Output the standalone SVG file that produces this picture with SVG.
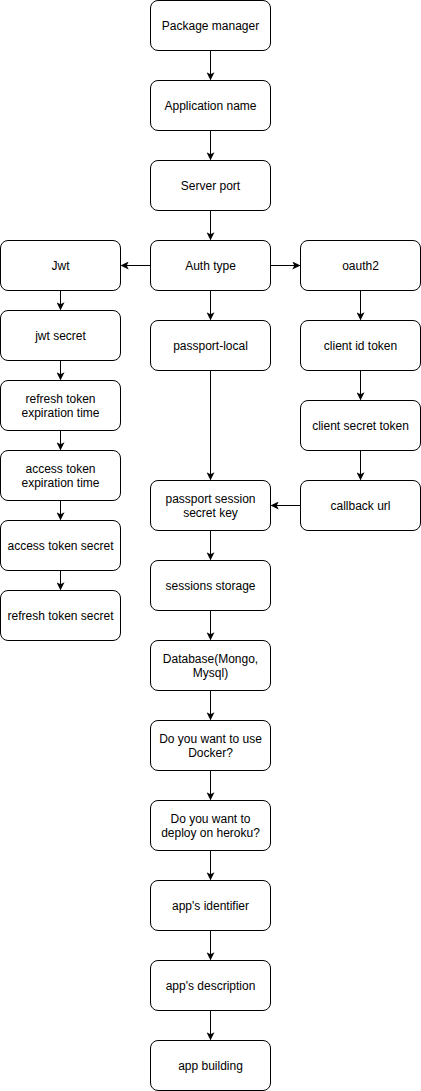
<svg xmlns="http://www.w3.org/2000/svg" width="421" height="1091" viewBox="0 0 421 1091">
<style>
.n rect{fill:#fff;stroke:#000;stroke-width:1}
.n text{font-family:"Liberation Sans",Arial,sans-serif;font-size:12px;fill:#000;text-anchor:middle}
.e path{fill:none;stroke:#000;stroke-width:1;marker-end:url(#a)}
</style>
<defs>
<marker id="a" viewBox="0 0 10 10" refX="9" refY="5" markerWidth="8" markerHeight="8" markerUnits="userSpaceOnUse" orient="auto">
<path d="M0,0 L10,5 L0,10 L2.5,5 Z" fill="#000" stroke="none"/>
</marker>
</defs>
<rect width="421" height="1091" fill="#fff"/>
<g class="e">
<path d="M210.5,50.5 V79.5"/>
<path d="M210.5,130.5 V159.5"/>
<path d="M210.5,210.5 V239.5"/>
<path d="M150.5,265.5 H121.5"/>
<path d="M270.5,265.5 H299.5"/>
<path d="M210.5,290.5 V319.5"/>
<path d="M210.5,370.5 V479.5"/>
<path d="M60.5,290.5 V309.5"/>
<path d="M60.5,360.5 V379.5"/>
<path d="M60.5,430.5 V449.5"/>
<path d="M60.5,500.5 V519.5"/>
<path d="M60.5,570.5 V589.5"/>
<path d="M360.5,290.5 V319.5"/>
<path d="M360.5,370.5 V399.5"/>
<path d="M360.5,450.5 V479.5"/>
<path d="M300.5,505.5 H271.5"/>
<path d="M210.5,530.5 V559.5"/>
<path d="M210.5,610.5 V639.5"/>
<path d="M210.5,690.5 V719.5"/>
<path d="M210.5,770.5 V799.5"/>
<path d="M210.5,850.5 V879.5"/>
<path d="M210.5,930.5 V959.5"/>
<path d="M210.5,1010.5 V1039.5"/>
</g>
<g id="pkg" class="n"><rect x="150.5" y="0.5" width="120" height="50" rx="7.5"/><text x="210.5" y="30">Package manager</text></g>
<g id="appname" class="n"><rect x="150.5" y="80.5" width="120" height="50" rx="7.5"/><text x="210.5" y="110">Application name</text></g>
<g id="port" class="n"><rect x="150.5" y="160.5" width="120" height="50" rx="7.5"/><text x="210.5" y="190">Server port</text></g>
<g id="auth" class="n"><rect x="150.5" y="240.5" width="120" height="50" rx="7.5"/><text x="210.5" y="270">Auth type</text></g>
<g id="jwt" class="n"><rect x="0.5" y="240.5" width="120" height="50" rx="7.5"/><text x="60.5" y="270">Jwt</text></g>
<g id="oauth2" class="n"><rect x="300.5" y="240.5" width="120" height="50" rx="7.5"/><text x="360.5" y="270">oauth2</text></g>
<g id="local" class="n"><rect x="150.5" y="320.5" width="120" height="50" rx="7.5"/><text x="210.5" y="350">passport-local</text></g>
<g id="jwtsecret" class="n"><rect x="0.5" y="310.5" width="120" height="50" rx="7.5"/><text x="60.5" y="340">jwt secret</text></g>
<g id="refexp" class="n"><rect x="0.5" y="380.5" width="120" height="50" rx="7.5"/><text x="60.5" y="403">refresh token</text><text x="60.5" y="417">expiration time</text></g>
<g id="accexp" class="n"><rect x="0.5" y="450.5" width="120" height="50" rx="7.5"/><text x="60.5" y="473">access token</text><text x="60.5" y="487">expiration time</text></g>
<g id="accsec" class="n"><rect x="0.5" y="520.5" width="120" height="50" rx="7.5"/><text x="60.5" y="550">access token secret</text></g>
<g id="refsec" class="n"><rect x="0.5" y="590.5" width="120" height="50" rx="7.5"/><text x="60.5" y="620">refresh token secret</text></g>
<g id="clientid" class="n"><rect x="300.5" y="320.5" width="120" height="50" rx="7.5"/><text x="360.5" y="350">client id token</text></g>
<g id="clientsec" class="n"><rect x="300.5" y="400.5" width="120" height="50" rx="7.5"/><text x="360.5" y="430">client secret token</text></g>
<g id="callback" class="n"><rect x="300.5" y="480.5" width="120" height="50" rx="7.5"/><text x="360.5" y="510">callback url</text></g>
<g id="sesskey" class="n"><rect x="150.5" y="480.5" width="120" height="50" rx="7.5"/><text x="210.5" y="503">passport session</text><text x="210.5" y="517">secret key</text></g>
<g id="storage" class="n"><rect x="150.5" y="560.5" width="120" height="50" rx="7.5"/><text x="210.5" y="590">sessions storage</text></g>
<g id="db" class="n"><rect x="150.5" y="640.5" width="120" height="50" rx="7.5"/><text x="210.5" y="663">Database(Mongo,</text><text x="210.5" y="677">Mysql)</text></g>
<g id="docker" class="n"><rect x="150.5" y="720.5" width="120" height="50" rx="7.5"/><text x="210.5" y="743">Do you want to use</text><text x="210.5" y="757">Docker?</text></g>
<g id="heroku" class="n"><rect x="150.5" y="800.5" width="120" height="50" rx="7.5"/><text x="210.5" y="823">Do you want to</text><text x="210.5" y="837">deploy on heroku?</text></g>
<g id="ident" class="n"><rect x="150.5" y="880.5" width="120" height="50" rx="7.5"/><text x="210.5" y="910">app's identifier</text></g>
<g id="desc" class="n"><rect x="150.5" y="960.5" width="120" height="50" rx="7.5"/><text x="210.5" y="990">app's description</text></g>
<g id="build" class="n"><rect x="150.5" y="1040.5" width="120" height="50" rx="7.5"/><text x="210.5" y="1070">app building</text></g>
</svg>
